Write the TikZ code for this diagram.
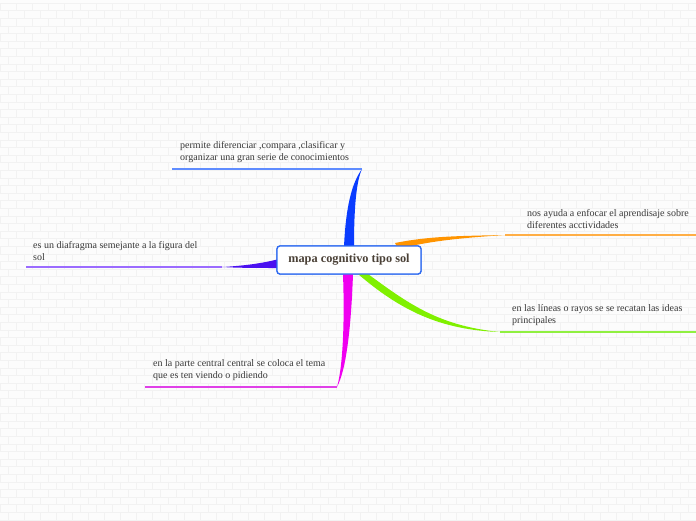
\documentclass[tikz,border=0pt]{standalone}
\usepackage{fontspec}
\setmainfont{Liberation Serif}
\definecolor{ink}{HTML}{4A4036}
\definecolor{frameblue}{HTML}{2F6BF0}
\definecolor{brick}{HTML}{F2F2F2}
\definecolor{paper}{HTML}{FCFCFC}
\definecolor{rayblue}{HTML}{0A3CFF}
\definecolor{lineblue}{HTML}{5F8CFF}
\definecolor{rayorange}{HTML}{FF9400}
\definecolor{lineorange}{HTML}{FFAE45}
\definecolor{raypurple}{HTML}{4A10F0}
\definecolor{linepurple}{HTML}{9B6BFF}
\definecolor{raymagenta}{HTML}{F000F0}
\definecolor{linemagenta}{HTML}{E040E8}
\definecolor{raygreen}{HTML}{80F000}
\definecolor{linegreen}{HTML}{90F040}
\begin{document}
\begin{tikzpicture}[x=1pt,y=-1pt]
    \tikzset{idea/.style = {anchor=south west,align=left,inner sep=0pt,font=\fontsize{10}{12}\selectfont,text=black!78}}
    \tikzset{topic/.style = {draw=frameblue,line width=1.3pt,fill=white,rounded corners=3pt,minimum width=144pt,minimum height=28pt,font=\fontsize{12.3}{14}\selectfont\bfseries,text=ink}}

    \useasboundingbox (0,0) rectangle (696,520);
    % background
    \begin{scope}
        \clip (0,0) rectangle (696,520);
        \fill[paper] (0,0) rectangle (696,520);
        \foreach \r in {0,...,68}{
            \draw[brick,line width=0.6pt] (0,{\r*7.6+3}) -- (696,{\r*7.6+3});
            \pgfmathsetmacro{\shift}{mod(\r,2)*8}
            \foreach \c in {0,...,44}{
                \draw[brick,line width=0.6pt] ({\c*16+\shift},{\r*7.6+3}) -- ({\c*16+\shift},{\r*7.6+10.6});
            }
        }
    \end{scope}

    \node[topic] (sol) at (349,260) {mapa cognitivo tipo sol};

    \coordinate (b1) at (362,169);
    \coordinate (b1e) at (172,169);
    \coordinate (b2) at (505,235);
    \coordinate (b2e) at (696,235);
    \coordinate (b3) at (222,267);
    \coordinate (b3e) at (26,267);
    \coordinate (b4) at (337,387);
    \coordinate (b4e) at (145,387);
    \coordinate (b5) at (500,332);
    \coordinate (b5e) at (696,332);

    \node[idea] (t1) at (180,163) {permite diferenciar ,compara ,clasificar y\\organizar una gran serie de conocimientos};
    \node[idea] (t2) at (527,229) {nos ayuda a enfocar el aprendisaje sobre\\diferentes acctividades};
    \node[idea] (t3) at (33,261) {es un diafragma semejante a la figura del\\sol};
    \node[idea] (t4) at (153,381) {en la parte central central se coloca el tema\\que es ten viendo o pidiendo};
    \node[idea] (t5) at (512,326) {en las líneas o rayos se se recatan las ideas\\principales};

    % rays
    \fill[rayblue] (344,247) .. controls (346,200) and (354,180) .. (b1) .. controls (356,182) and (354,210) .. (354,247) -- cycle;
    \draw[lineblue,line width=1.2pt] (b1) -- (b1e);

    \fill[rayorange] (395,243) .. controls (430,236) and (460,236) .. (b2) .. controls (460,238) and (430,241) .. (398,249) -- cycle;
    \draw[lineorange,line width=1.2pt] (b2) -- (b2e);

    \fill[raypurple] (279,259) .. controls (260,264) and (240,266) .. (b3) .. controls (240,268) and (260,268) .. (279,268) -- cycle;
    \draw[linepurple,line width=1.2pt] (b3) -- (b3e);

    \fill[raymagenta] (343,274) .. controls (345,330) and (342,370) .. (b4) .. controls (346,370) and (351,330) .. (353,274) -- cycle;
    \draw[linemagenta,line width=1.2pt] (b4) -- (b4e);

    \fill[raygreen] (358,274) .. controls (400,310) and (440,330) .. (b5) .. controls (440,326) and (410,305) .. (368,274) -- cycle;
    \draw[linegreen,line width=1.2pt] (b5) -- (b5e);

    \node[topic] at (sol) {mapa cognitivo tipo sol};

\end{tikzpicture}
\end{document}
